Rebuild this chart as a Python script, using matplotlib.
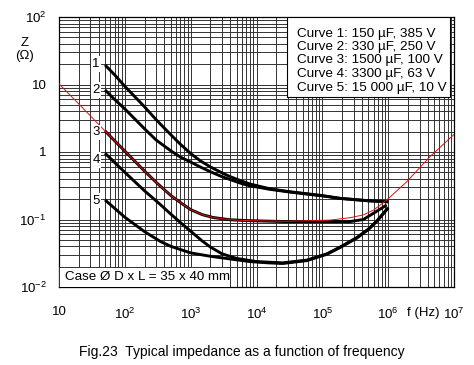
import numpy as np
import matplotlib
matplotlib.use("Agg")
from matplotlib import pyplot as plt
from matplotlib.ticker import LogLocator, NullFormatter
from matplotlib.patches import Rectangle

plt.rcParams['font.family'] = ['Liberation Sans', 'DejaVu Sans']
plt.rcParams['mathtext.fontset'] = 'custom'
plt.rcParams['mathtext.rm'] = 'Liberation Sans'
plt.rcParams['mathtext.it'] = 'Liberation Sans:italic'

# impedance curves (f in Hz, Z in ohm)
f1 = [50, 70, 100, 200, 300, 500, 700, 1e3, 1.4e3, 2e3, 3e3, 4e3, 6e3, 8e3,
      1.6e4, 3.2e4, 1e5, 1.86e5, 5e5, 1e6]
z1 = [19.5, 13.9, 9.4, 4.65, 3.0, 1.8, 1.3, 0.95, 0.74, 0.6, 0.49, 0.43, 0.37, 0.335,
      0.285, 0.258, 0.226, 0.206, 0.19, 0.183]

f2 = [50, 70, 100, 200, 300, 500, 700, 1e3, 1.4e3, 2e3, 3e3, 4e3, 6e3, 8e3,
      1.6e4, 3.2e4, 1e5, 1.86e5, 5e5, 1e6]
z2 = [8.3, 6.0, 4.35, 2.2, 1.5, 1.04, 0.84, 0.71, 0.6, 0.51, 0.43, 0.39, 0.34, 0.315,
      0.28, 0.255, 0.224, 0.205, 0.189, 0.183]

f3 = [50, 100, 200, 300, 400, 500, 700, 1e3, 1.5e3, 2.2e3, 4e3, 8e3, 3e4, 1.3e5,
      2.6e5, 4.2e5, 6e5, 9.5e5]
z3 = [2.05, 1.03, 0.52, 0.355, 0.275, 0.227, 0.178, 0.14, 0.118, 0.107, 0.099, 0.096, 0.093, 0.093,
      0.093, 0.1, 0.124, 0.164]

f4 = [50, 100, 200, 350, 500, 730, 1e3, 1.5e3, 2e3, 3e3, 5e3, 1e4, 2.5e4, 5.8e4,
      1.17e5, 1.86e5, 3.34e5, 5e5, 6.73e5, 1e6]
z4 = [0.96, 0.5, 0.265, 0.165, 0.12, 0.087, 0.067, 0.048, 0.039, 0.031, 0.0265, 0.0238, 0.0228, 0.025,
      0.031, 0.039, 0.054, 0.072, 0.095, 0.15]

f5 = [50, 100, 200, 350, 500, 1e3, 2e3, 4e3, 8e3, 1.5e4, 2.5e4, 5.8e4,
      1.17e5, 1.86e5, 3.34e5, 5e5, 6.73e5, 1e6]
z5 = [0.195, 0.108, 0.066, 0.047, 0.04, 0.032, 0.0285, 0.026, 0.0238, 0.0228, 0.0223, 0.0246,
      0.0305, 0.0385, 0.053, 0.071, 0.094, 0.148]

# thin red trace (curve 3 over the full range)
f_red = [10, 20, 50, 100, 200, 300, 400, 500, 700, 1e3, 1.5e3, 2.2e3, 4e3, 8e3, 3e4, 1.3e5,
         2.6e5, 4.2e5, 6e5, 9.5e5, 1.9e6, 4.3e6, 1e7]
z_red = [10.2, 5.15, 2.05, 1.03, 0.52, 0.355, 0.275, 0.227, 0.178, 0.14, 0.118, 0.107, 0.099, 0.096,
         0.094, 0.098, 0.106, 0.117, 0.138, 0.194, 0.36, 0.85, 1.82]

curve_names = ["1", "2", "3", "4", "5"]
legend_lines = ["Curve 1: 150 \u00b5F, 385 V",
                "Curve 2: 330 \u00b5F, 250 V",
                "Curve 3: 1500 \u00b5F, 100 V",
                "Curve 4: 3300 \u00b5F, 63 V",
                "Curve 5: 15 000 \u00b5F, 10 V"]

xticks = [1e1, 1e2, 1e3, 1e4, 1e5, 1e6, 1e7]
xlabels = ["10", "$10^2$", "$10^3$", "$10^4$", "$10^5$", "$10^6$", "$10^7$"]
yticks = [1e-2, 1e-1, 1, 1e1, 1e2]
ylabels = ["$10^{-2}$", "$10^{-1}$", "1", "10", "$10^2$"]

fig = plt.figure(figsize=(4.74, 3.65), dpi=100)
ax = fig.add_axes([59 / 474, 1 - 287 / 365, 395 / 474, 270 / 365])
ax.set_xscale("log")
ax.set_yscale("log")
ax.set_xlim(10, 1e7)
ax.set_ylim(1e-2, 1e2)

ax.xaxis.set_minor_locator(LogLocator(base=10, subs=np.arange(2, 10), numticks=50))
ax.yaxis.set_minor_locator(LogLocator(base=10, subs=np.arange(2, 10), numticks=50))
ax.xaxis.set_minor_formatter(NullFormatter())
ax.yaxis.set_minor_formatter(NullFormatter())
ax.set_xticks(xticks)
ax.set_xticklabels(xlabels)
ax.set_yticks(yticks)
ax.set_yticklabels(ylabels)
ax.tick_params(which="both", length=0)
ax.tick_params(axis="x", pad=14, labelsize=9.5)
ax.tick_params(axis="y", pad=9, labelsize=9.5)
ax.grid(which="both", color="0.2", linewidth=0.7)
for s in ax.spines.values():
    s.set_linewidth(0.9)

black = [(f1, z1), (f2, z2), (f3, z3), (f4, z4), (f5, z5)]
for f, z in black:
    ax.plot(f, z, color="black", linewidth=2.1, solid_capstyle="butt",
            solid_joinstyle="round", zorder=4)
ax.plot(f_red, z_red, color="#dd1111", linewidth=0.7, zorder=5)

# curve numbers next to the start of each curve
label_y = [20.0, 8.3, 1.95, 0.76, 0.19]
for name, y in zip(curve_names, label_y):
    ax.text(36.5, y, name, fontsize=9.5, ha="center", va="center", zorder=6,
            bbox=dict(fc="white", ec="none", pad=1.2))

# legend box
ax.add_patch(Rectangle((0.577, 0.7037), 0.413, 0.2963, transform=ax.transAxes,
                       fc="white", ec="black", lw=0.8, zorder=3))
for i, line in enumerate(legend_lines):
    ax.text(0.6025, (287 - 33.5 - 13.5 * i) / 270, line, transform=ax.transAxes,
            fontsize=9.7, ha="left", va="center", zorder=6)

# case size box
ax.add_patch(Rectangle((10, 0.01), 4000 - 10, 0.01, fc="white", ec="0.2", lw=0.7, zorder=3))
ax.text(0.015, 10 / 270, "Case \u00d8 D x L = 35 x 40 mm", transform=ax.transAxes,
        fontsize=9.6, ha="left", va="center", zorder=6)

fig.text(25 / 474, 1 - 43 / 365, "Z", fontsize=9.5, ha="center", va="center")
fig.text(25 / 474, 1 - 56 / 365, "(\u03a9)", fontsize=9.5, ha="center", va="center")
fig.text(423 / 474, 1 - 313 / 365, "f (Hz)", fontsize=9.5, ha="center", va="center")
fig.text(242 / 474, 1 - 352 / 365, "Fig.23  Typical impedance as a function of frequency",
         fontsize=10, ha="center", va="center")

fig.savefig("out.png", dpi=100)
